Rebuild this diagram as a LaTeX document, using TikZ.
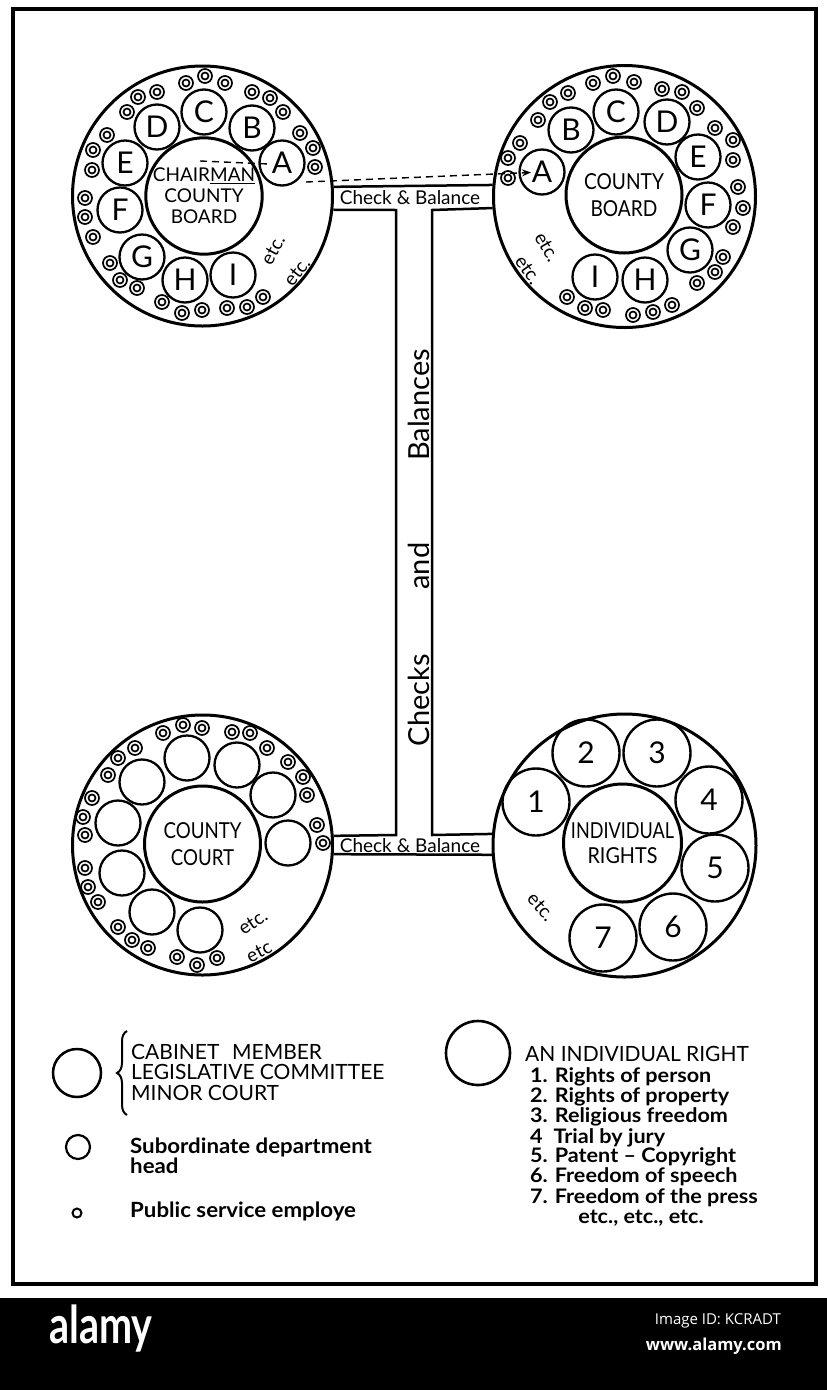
\documentclass[tikz,border=0pt]{standalone}
\usepackage{fontspec}
\setmainfont{Lato}
\newfontfamily\wmfont{Open Sans}
\usetikzlibrary{decorations.pathreplacing,arrows.meta,calc}
\newcommand\sx[2]{\scalebox{#1}[1]{#2}}
\tikzset{
  outerc/.style={circle,draw,line width=3pt,minimum size=#1,inner sep=0pt},
  innerc/.style={circle,draw,line width=3pt,minimum size=#1,inner sep=0pt,align=center},
  medc/.style={circle,draw,line width=2.3pt,minimum size=45pt,inner sep=0pt,font=\fontsize{30}{30}\selectfont},
  rightc/.style={circle,draw,line width=2.4pt,minimum size=67pt,inner sep=0pt,font=\fontsize{30}{30}\selectfont},
  smallc/.style={line width=1.7pt},
  bar/.style={line width=2.5pt},
  cblabel/.style={font=\fontsize{19}{19}\selectfont,inner sep=0pt},
  vtext/.style={font=\fontsize{29}{29}\selectfont,inner sep=0pt,rotate=90},
  etcs/.style={font=\fontsize{19}{19}\selectfont,inner sep=0pt},
  dline/.style={line width=1.4pt,dash pattern=on 7pt off 5pt},
  capleg/.style={font=\fontsize{21}{20.5}\selectfont,inner sep=0pt,align=left},
  lowleg/.style={font=\bfseries\fontsize{21}{19}\selectfont,inner sep=0pt},
  listleg/.style={font=\bfseries\fontsize{20}{20}\selectfont,inner sep=0pt,anchor=base west},
}
\begin{document}
\begin{tikzpicture}[x=1pt,y=-1pt]
\useasboundingbox (0,0) rectangle (827,1390);
\fill[white] (0,0) rectangle (827,1390);
% frame
\draw[line width=3.5pt] (13,9) rectangle (816,1284);

% ---------- top-left: chairman ----------
\node[outerc=260pt] (tl) at (202.5,196) {};
\node[innerc=114pt,font=\fontsize{19}{21}\selectfont] (tlc) at (204,196) {CHAIR\underline{MAN}\\COUNTY\\BOARD};
\foreach \n/\x/\y in {A/282/163,B/252/128,C/204/112,D/157/127,E/125/163,F/120/210,G/142/257,H/185/280,I/233/275}
  \node[medc] (tl\n) at (\x,\y) {\n};
\foreach \x/\y in {315/167,313/148,300/133,283/112,270/98,252/92,225/83,205/76,186/83,157/92,138/97,127/112,107/135,93/150,92/170,85/198,85/217,93/237,110/263,120/280,137/288,162/302,182/313,202/310,227/308,247/307,263/297}
  {\draw[smallc] (\x,\y) circle[radius=7]; \draw[smallc] (\x,\y) circle[radius=3.5];}
\node[etcs,rotate=62] (tle1) at (273,250) {etc.};
\node[etcs,rotate=52] (tle2) at (297,272) {etc.};

% ---------- top-right: county board ----------
\node[outerc=262pt] (tr) at (624.5,196.5) {};
\node[innerc=116pt,font=\fontsize{22}{26.5}\selectfont] (trc) at (624,195) {\sx{0.87}{COUNTY}\\\sx{0.87}{BOARD}};
\foreach \n/\x/\y in {A/542/172,B/571/130,C/616/112,D/667/122,E/698/157,F/708/205,G/690/250,H/645/280,I/595/277}
  \node[medc] (tr\n) at (\x,\y) {\n};
\foreach \x/\y in {508/178,508/158,520/143,538/120,550/102,568/93,593/83,613/76,634/82,662/89,682/92,697/108,715/128,733/140,733/160,738/187,743/208,733/227,723/257,715/272,697/283,672/305,653/312,633/315,603/310,585/308,567/297}
  {\draw[smallc] (\x,\y) circle[radius=7]; \draw[smallc] (\x,\y) circle[radius=3.5];}
\node[etcs,rotate=-60] (tre1) at (547,247) {etc.};
\node[etcs,rotate=-55] (tre2) at (528,270) {etc.};

% ---------- bottom-left: county court ----------
\node[outerc=260pt] (bl) at (202.5,845) {};
\node[innerc=116pt,font=\fontsize{22}{27.5}\selectfont] (blc) at (202.5,844) {\sx{0.85}{COUNTY}\\\sx{0.85}{COURT}};
\foreach \n/\x/\y in {1/187/758,2/237/765,3/273/795,4/288/843,5/142/782,6/118/823,7/122/873,8/152/912,9/200/930}
  \node[medc] (bl\n) at (\x,\y) {};
\foreach \x/\y in {323/843,317/825,307/795,303/777,288/762,267/748,250/733,232/732,202/728,183/725,163/733,135/748,118/758,108/775,92/798,83/817,85/835,85/868,88/887,98/902,118/927,132/940,148/948,177/957,197/965,217/958}
  {\draw[smallc] (\x,\y) circle[radius=7]; \draw[smallc] (\x,\y) circle[radius=3.5];}
\node[etcs,rotate=34] (ble1) at (253,922) {etc.};
\node[etcs,rotate=27] (ble2) at (259,952) {etc};

% ---------- bottom-right: individual rights ----------
\node[outerc=263pt] (br) at (624.5,845.5) {};
\node[innerc=118pt,font=\fontsize{22}{25}\selectfont] (brc) at (622.5,843) {\sx{0.82}{INDIVIDUAL}\\\sx{0.9}{RIGHTS}};
\foreach \n/\x/\y in {1/536/802,2/586/753,3/657/753,4/709/800,5/715/868,6/673/927,7/603/938}
  \node[rightc] (br\n) at (\x,\y) {\n};
\node[etcs,rotate=-48] (bre1) at (541,907) {etc.};

% ---------- checks and balances ----------
\coordinate (vl1) at (396,210);
\coordinate (vl2) at (396,835);
\coordinate (vr1) at (432,210);
\coordinate (vr2) at (432,835);
\draw[bar] (tl.4.4) -- (tr.175.4);
\draw[bar] (tl.-6.1) -- (vl1) -- (vl2) -- (bl.4.4);
\draw[bar] (tr.185.9) -- (vr1) -- (vr2) -- (br.175.4);
\draw[bar] (bl.-4.4) -- (br.184.1);
\node[cblabel] (cbt) at (410,198) {Check \& Balance};
\node[cblabel] (cbb) at (410,846) {Check \& Balance};
\node[vtext] (vt1) at (419,700) {Checks};
\node[vtext] (vt2) at (419,566) {and};
\node[vtext] (vt3) at (419,405) {Balances};

% dashed line chairman -> county board A
\coordinate (d1) at (200,161);
\coordinate (d2) at (269,164);
\coordinate (d3) at (306,182);
\draw[dline] (d1) -- (d2);
\draw[dline,-{Stealth[length=9pt,width=7pt]},shorten >=11pt] (d3) -- (trA.center);

% ---------- legend ----------
\node[circle,draw,line width=2.5pt,minimum size=48pt,inner sep=0pt] (lg1) at (77,1073) {};
\draw[line width=2pt,decorate,decoration={brace,amplitude=10pt}] (127,1115) -- (127,1031);
\node[capleg,anchor=west] (lg1t) at (131,1072) {CABINET\hspace{0.6em}MEMBER\\LEGISLATIVE COMMITTEE\\MINOR COURT};
\node[circle,draw,line width=2.2pt,minimum size=24pt,inner sep=0pt] (lg2) at (78,1147) {};
\node[lowleg,anchor=west,align=left] (lg2t) at (130,1156) {\sx{1.06}{Subordinate department}\\\sx{1.06}{head}};
\node[circle,draw,line width=2pt,minimum size=9pt,inner sep=0pt] (lg3) at (77,1213) {};
\node[lowleg,anchor=west] (lg3t) at (130,1211) {\sx{1.06}{Public service employe}};

\node[circle,draw,line width=2.6pt,minimum size=64pt,inner sep=0pt] (lg4) at (478,1053) {};
\node[capleg,anchor=west] (lg4t) at (525,1054) {AN INDIVIDUAL RIGHT};
\node[listleg] (r1) at (530,1082) {\sx{1.08}{1. Rights of person}};
\node[listleg] (r2) at (530,1102) {\sx{1.08}{2. Rights of property}};
\node[listleg] (r3) at (530,1122) {\sx{1.08}{3. Religious freedom}};
\node[listleg] (r4) at (530,1143) {\sx{1.08}{4\hspace{0.5em}Trial by jury}};
\node[listleg] (r5) at (530,1162) {\sx{1.08}{5. Patent -- Copyright}};
\node[listleg] (r6) at (530,1182) {\sx{1.08}{6. Freedom of speech}};
\node[listleg] (r7) at (530,1203) {\sx{1.08}{7. Freedom of the press}};
\node[listleg,anchor=base] (r8) at (641,1223) {\sx{1.08}{etc., etc., etc.}};

% ---------- watermark band ----------
\fill[black] (0,1298) rectangle (827,1390);
\node[text=white,font=\bfseries\fontsize{52}{52}\selectfont,inner sep=0pt] (wm1) at (101,1329) {\sx{0.76}{alamy}};
\node[text=white,font=\wmfont\fontsize{15}{15}\selectfont,inner sep=0pt,anchor=east] (wm2) at (781,1321) {Image ID: KCRADT};
\node[text=white,font=\wmfont\bfseries\fontsize{16.5}{16.5}\selectfont,inner sep=0pt,anchor=east] (wm3) at (782,1346) {www.alamy.com};
\end{tikzpicture}
\end{document}
